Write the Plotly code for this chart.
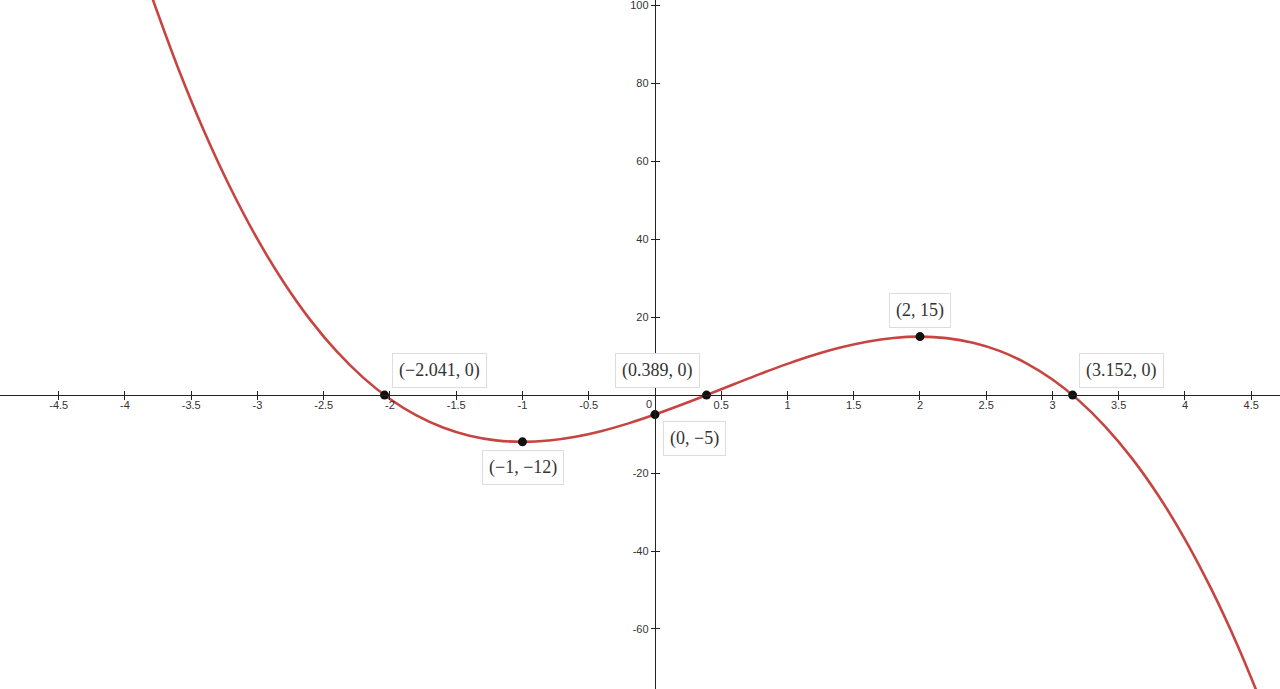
import plotly.graph_objects as go

# Curve samples
curve_x = [-3.8, -3.6, -3.4, -3.2, -3.0, -2.8, -2.6, -2.4, -2.2, -2.0, -1.8, -1.6, -1.4, -1.2, -1.0,
           -0.8, -0.6, -0.4, -0.2, 0.0, 0.2, 0.4, 0.6, 0.8, 1.0, 1.2, 1.4, 1.6, 1.8, 2.0, 2.2, 2.4,
           2.6, 2.8, 3.0, 3.2, 3.4, 3.6, 3.8, 4.0, 4.2, 4.4, 4.6]
curve_y = [102.46, 83.99, 67.49, 52.86, 40.0, 28.82, 19.23, 11.13, 4.42, -1.0, -5.22, -8.33, -10.43,
           -11.62, -12.0, -11.66, -10.69, -9.19, -7.26, -5.0, -2.50, 0.15, 2.85, 5.50, 8.0, 10.26,
           12.19, 13.69, 14.66, 15.0, 14.62, 13.43, 11.33, 8.22, 4.0, -1.42, -8.13, -16.23, -25.82,
           -37.0, -49.86, -64.49, -81.0]

# Marked points and their labels
pt_x = [-2.041, -1, 0.389, 0, 2, 3.152]
pt_y = [0, -12, 0, -5, 15, 0]
pt_labels = ["(−2.041, 0)", "(−1, −12)", "(0.389, 0)", "(0, −5)", "(2, 15)", "(3.152, 0)"]
label_dx = [55, 1, -49, 40, 0, 49]
label_dy = [25, -26, 25, -24, 26, 25]

x_ticks = [-4.5, -4, -3.5, -3, -2.5, -2, -1.5, -1, -0.5, 0.5, 1, 1.5, 2, 2.5, 3, 3.5, 4, 4.5]
x_ticktext = ["-4.5", "-4", "-3.5", "-3", "-2.5", "-2", "-1.5", "-1", "-0.5", "0.5", "1",
              "1.5", "2", "2.5", "3", "3.5", "4", "4.5"]
y_ticks = [-60, -40, -20, 20, 40, 60, 80, 100]
y_ticktext = ["-60", "-40", "-20", "20", "40", "60", "80", "100"]

x_range = [-4.943, 4.717]
y_range = [-75.4, 101.35]

x0_pos = (0 - y_range[0]) / (y_range[1] - y_range[0])
y0_pos = (0 - x_range[0]) / (x_range[1] - x_range[0])

RED = "#c74440"
AXC = "#222222"
tickfont = dict(family="Liberation Sans, Arial, sans-serif", size=11, color="#333333")

fig = go.Figure()
fig.add_trace(go.Scatter(x=curve_x, y=curve_y, mode="lines", line=dict(color=RED, width=2.6, shape="spline"),
                         hoverinfo="skip", showlegend=False))
fig.add_trace(go.Scatter(x=pt_x, y=pt_y, mode="markers", marker=dict(color="#111111", size=9),
                         showlegend=False))
fig.add_trace(go.Scatter(x=[None], y=[None], xaxis="x2", yaxis="y2", showlegend=False, hoverinfo="skip"))

for x, y, t, dx, dy in zip(pt_x, pt_y, pt_labels, label_dx, label_dy):
    fig.add_annotation(x=x, y=y, text=t, showarrow=False, xshift=dx, yshift=dy,
                       xanchor="center", yanchor="middle",
                       font=dict(family="Liberation Serif, DejaVu Serif, serif", size=18, color="#333333"),
                       bgcolor="white", bordercolor="#dddddd", borderwidth=1, borderpad=6)

# "0" label beside the origin and the partly cut "-5" label at the left edge
fig.add_annotation(x=0, y=0, text="0", showarrow=False, xshift=-6, yshift=-9,
                   xanchor="center", yanchor="middle", font=tickfont)
edge_tick = -5
fig.add_annotation(xref="paper", yref="paper",
                   x=(edge_tick - x_range[0]) / (x_range[1] - x_range[0]), y=x0_pos,
                   text="-5", showarrow=False, yshift=-9, xanchor="center", yanchor="middle",
                   font=tickfont)

axis_common = dict(showgrid=False, zeroline=False, showline=True, linecolor=AXC, linewidth=1.3,
                   tickcolor=AXC, tickwidth=1.2, ticklen=4, tickfont=tickfont, fixedrange=True,
                   automargin=False, ticklabeloverflow="allow")

fig.update_layout(
    width=1280, height=689,
    margin=dict(l=0, r=0, t=0, b=0, pad=0, autoexpand=False),
    paper_bgcolor="white", plot_bgcolor="white",
    showlegend=False,
    xaxis=dict(range=x_range, tickvals=x_ticks, ticktext=x_ticktext, ticks="outside",
               anchor="free", position=x0_pos, ticklabelstandoff=-4, **axis_common),
    yaxis=dict(range=y_range, tickvals=y_ticks, ticktext=y_ticktext, ticks="outside",
               anchor="free", position=y0_pos, **axis_common),
    xaxis2=dict(range=x_range, tickvals=x_ticks, ticks="inside", showticklabels=False, overlaying="x",
                anchor="free", position=x0_pos, showgrid=False, zeroline=False, showline=False,
                tickcolor=AXC, tickwidth=1.2, ticklen=4, automargin=False),
    yaxis2=dict(range=y_range, tickvals=y_ticks, ticks="inside", showticklabels=False, overlaying="y",
                anchor="free", position=y0_pos, showgrid=False, zeroline=False, showline=False,
                tickcolor=AXC, tickwidth=1.2, ticklen=4, automargin=False),
)

fig.write_html("out.html", config={"displayModeBar": False},
               post_script="document.body.style.margin='0';document.body.style.overflow='hidden';")
